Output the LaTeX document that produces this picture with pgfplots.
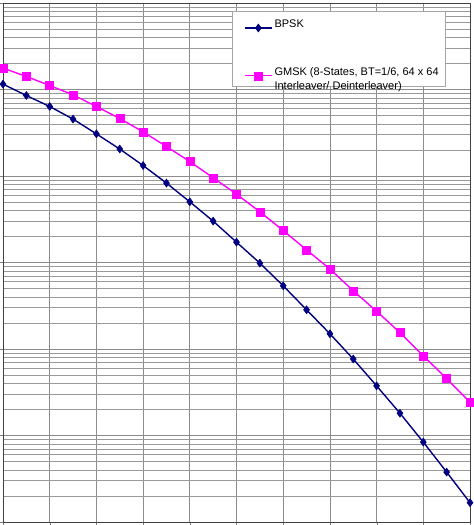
\documentclass[border=0pt]{standalone}
\usepackage{pgfplots}
\pgfplotsset{compat=1.18}
\usepackage{fontspec}
\setmainfont{Liberation Sans}
\definecolor{bpsk}{RGB}{0,0,128}
\definecolor{gmsk}{RGB}{255,0,255}
\begin{document}
\begin{tikzpicture}
\useasboundingbox (-3pt,-3pt) rectangle (471pt,522pt);
\begin{axis}[
  scale only axis,
  width=467pt, height=519pt,
  xmin=0, xmax=10,
  ymode=log, ymin=1e-6, ymax=1,
  xtick={0,1,...,10},
  ytick={1e-6,1e-5,1e-4,1e-3,1e-2,1e-1,1},
  xticklabel={\relax}, yticklabel={\relax},
  tick pos=left,
  tick align=outside,
  major tick length=3pt,
  minor tick length=0pt,
  grid=both,
  major grid style={black!45, line width=0.8pt},
  minor grid style={black!40, line width=0.7pt},
  axis line style={black!75, line width=1pt},
  clip=false,
  legend style={at={(0.490,0.9846)}, anchor=north west,
    draw=black!35, fill=white, line width=0.6pt,
    font=\fontsize{11}{14}\selectfont,
    row sep=32pt, inner xsep=12pt, inner ysep=7pt,
    cells={anchor=base west}},
  legend image code/.code={\draw[mark repeat=2,mark phase=2,#1] plot coordinates {(0pt,0pt) (13.5pt,0pt) (27pt,0pt)};},
]
\addplot[bpsk, line width=1.4pt, mark=diamond*, mark size=4pt, mark options={solid, line width=0.5pt}] coordinates {
(0.0,0.1154) (0.5,0.0852) (1.0,0.0636) (1.5,0.0455) (2.0,0.0307) (2.5,0.0205)
(3.0,0.01322) (3.5,0.00828) (4.0,0.00503) (4.5,0.00301) (5.0,0.00172)
(5.5,9.84e-4) (6.0,5.38e-4) (6.5,2.84e-4) (7.0,1.50e-4) (7.5,7.66e-5)
(8.0,3.75e-5) (8.5,1.81e-5) (9.0,8.39e-6) (9.5,3.78e-6) (10.0,1.67e-6)
};
\addlegendentry{BPSK}
\addplot[gmsk, line width=1.4pt, mark=square*, mark size=4pt, mark options={solid, line width=0.5pt}] coordinates {
(0.0,0.1768) (0.5,0.1414) (1.0,0.1112) (1.5,0.0868) (2.0,0.0636) (2.5,0.0462)
(3.0,0.0324) (3.5,0.02193) (4.0,0.01471) (4.5,0.00953) (5.0,0.00618)
(5.5,0.00386) (6.0,0.00234) (6.5,0.00140) (7.0,8.41e-4) (7.5,4.71e-4)
(8.0,2.73e-4) (8.5,1.55e-4) (9.0,8.34e-5) (9.5,4.55e-5) (10.0,2.42e-5)
};
\addlegendentry{\raisebox{0pt}[\height][19pt]{\begin{tabular}[t]{@{}l@{\hspace{-7pt}}}GMSK (8-States, BT=1/6, 64 x 64\\Interleaver/ Deinterleaver)\end{tabular}}}
\end{axis}
\end{tikzpicture}
\end{document}
